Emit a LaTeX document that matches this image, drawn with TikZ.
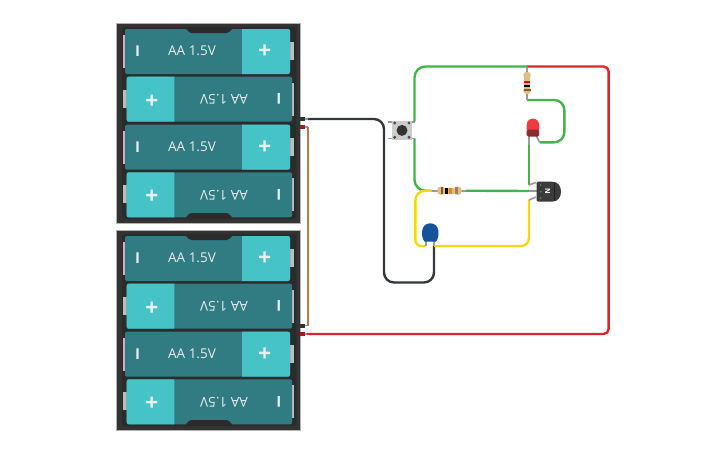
\documentclass[tikz,border=0pt]{standalone}
\usepackage{fontspec}
\setmainfont{Open Sans}
\usetikzlibrary{positioning}

\definecolor{holderdark}{HTML}{2B2B2B}
\definecolor{holderedge}{HTML}{333333}
\definecolor{celldark}{HTML}{317B82}
\definecolor{celllight}{HTML}{45C3C7}
\definecolor{celltext}{HTML}{E6EEEE}
\definecolor{tipgray}{HTML}{BDBDBD}
\definecolor{leadgray}{HTML}{9A9A9A}
\definecolor{wiregreen}{HTML}{3FB54A}
\definecolor{wirered}{HTML}{E4222C}
\definecolor{wireyellow}{HTML}{F5D90E}
\definecolor{wireblack}{HTML}{33383C}
\definecolor{wirebrown}{HTML}{B07C4C}
\definecolor{restan}{HTML}{E0BE85}
\definecolor{resbrown}{HTML}{8B5A2B}
\definecolor{capblue}{HTML}{14539A}
\definecolor{ledred}{HTML}{EE3B40}
\definecolor{leddark}{HTML}{8A2B2E}
\definecolor{stubred}{HTML}{A01A1E}

\tikzset{
    wire/.style={line width=2.4pt, line join=round},
    lead/.style={line width=1.6pt, leadgray},
    celllabel/.style={text=celltext, inner sep=0pt},
    stub/.style={line width=4pt},
}

\begin{document}
\begin{tikzpicture}[x=1pt, y=-1pt]
    \useasboundingbox (0,0) rectangle (725,453);

    % Battery holders
    \foreach \off/\h in {0/A, 207/B} {
        \fill[holderedge, draw=gray!60, line width=0.5pt] (116,23+\off) rectangle (300.5,223+\off);
        \fill[holderdark, rounded corners=2pt] (122,27+\off) rectangle (296,219+\off);

        % Cells pointing right
        \foreach \top/\r in {29/a, 124.7/c} {
            \fill[tipgray] (122.7,\top+6+\off) rectangle (126,\top+39+\off);
            \fill[tipgray] (289,\top+13+\off) rectangle (294,\top+31+\off);
            \fill[celldark, rounded corners=2pt] (125,\top+\off) rectangle (290,\top+45+\off);
            \fill[celllight] (242,\top+\off) [rounded corners=2pt] -- (290,\top+\off)
                -- (290,\top+45+\off) [sharp corners] -- (242,\top+45+\off) -- cycle;
            \node[celllabel, font=\fontsize{13.5}{14}\selectfont] (aa\h\r) at (192,\top+22+\off) {AA 1.5V};
            \node[celllabel, font=\bfseries\fontsize{15}{16}\selectfont] (neg\h\r) at (137.7,\top+22+\off) {I};
            \node[celllabel, font=\bfseries\fontsize{23}{23}\selectfont] (pos\h\r) at (264.7,\top+22.5+\off) {+};
        }

        % Cells pointing left
        \foreach \top/\r in {76.7/b, 172.3/d} {
            \fill[tipgray] (122.7,\top+13+\off) rectangle (128,\top+31+\off);
            \fill[tipgray] (291,\top+6+\off) rectangle (294,\top+39+\off);
            \fill[celldark, rounded corners=2pt] (126.7,\top+\off) rectangle (292,\top+45+\off);
            \fill[celllight] (174.3,\top+\off) [rounded corners=2pt] -- (126.7,\top+\off)
                -- (126.7,\top+45+\off) [sharp corners] -- (174.3,\top+45+\off) -- cycle;
            \node[celllabel, rotate=180, font=\fontsize{13.5}{14}\selectfont] (aa\h\r) at (224,\top+22.5+\off) {AA 1.5V};
            \node[celllabel, rotate=180, font=\bfseries\fontsize{15}{16}\selectfont] (neg\h\r) at (279,\top+22.5+\off) {I};
            \node[celllabel, rotate=180, font=\bfseries\fontsize{23}{23}\selectfont] (pos\h\r) at (151.7,\top+22.5+\off) {+};
        }

        % Notches
        \fill[holderdark, rounded corners=1.5pt] (185,28+\off) -- (190,33+\off) -- (228,33+\off) -- (233,28+\off) -- cycle;
        \fill[holderdark, rounded corners=1.5pt] (185,218+\off) -- (190,213+\off) -- (228,213+\off) -- (233,218+\off) -- cycle;
    }

    % Terminals
    \coordinate (blackA) at (308,119);
    \coordinate (redA) at (307.5,127);
    \coordinate (blackB) at (307.5,325.5);
    \coordinate (redB) at (307,334);
    \coordinate (holdA) at (300,119);
    \coordinate (holdAr) at (300,127);
    \coordinate (holdB) at (300,325.5);
    \coordinate (holdBr) at (300,334);
    \coordinate (tipA) at (304.5,119);
    \coordinate (tipAr) at (304.5,127);
    \coordinate (tipB) at (304.5,325.5);
    \coordinate (tipBr) at (304.5,334);

    % Component pins
    \coordinate (btnTL) at (388,121.7);
    \coordinate (btnTR) at (414.5,121.7);
    \coordinate (btnBL) at (388,138.3);
    \coordinate (btnBR) at (414.5,138.3);
    \coordinate (resTop) at (527,66.5);
    \coordinate (resBot) at (527,100);
    \coordinate (ledA) at (529,145);
    \coordinate (ledK) at (539.5,142.3);
    \coordinate (ledAtop) at (529,136);
    \coordinate (ledKtop) at (536.5,136);
    \coordinate (baseL) at (431.5,190.7);
    \coordinate (baseR) at (466,190.7);
    \coordinate (trE) at (529,185);
    \coordinate (trB) at (529,191);
    \coordinate (trC) at (529,200);
    \coordinate (capL) at (425.7,246);
    \coordinate (capR) at (434,246);
    \coordinate (capLt) at (425.7,240);
    \coordinate (capRt) at (434,240);

    % Wire corners
    \coordinate (blackLow) at (384,282.5);
    \coordinate (redCorner) at (608.6,66.5);
    \coordinate (greenSide) at (564.3,100);
    \coordinate (yellowMid) at (415.3,225);

    % Stubs on the holders
    \draw[stub, black!80] (holdA) -- (tipA);
    \draw[stub, black!80] (holdB) -- (tipB);
    \draw[stub, stubred] (holdAr) -- (tipAr);
    \draw[stub, stubred] (holdBr) -- (tipBr);
    \draw[lead] (tipA) -- (blackA);
    \draw[lead] (tipAr) -- (redA);
    \draw[lead] (tipB) -- (blackB);
    \draw[lead] (tipBr) -- (redB);

    % Brown link
    \draw[wirebrown, line width=2pt] (redA) -- (blackB);

    % Black wire
    \draw[wire, wireblack, rounded corners=10pt] (blackA) -| (blackLow) -| (capR);

    % Red wire
    \draw[wire, wirered, rounded corners=5pt] (redB) -| (redCorner) -- (resTop);

    % Green wires
    \draw[wire, wiregreen, rounded corners=11pt] (resTop) -| (btnTR);
    \draw[wire, wiregreen, rounded corners=11pt] (btnBR) |- (baseL);
    \draw[wire, wiregreen] (baseR) -- (trB);
    \draw[wire, wiregreen] (ledA) -- (trE);
    \draw[wire, wiregreen, rounded corners=10pt] (ledK) -| (greenSide) -- (resBot);

    % Yellow wires
    \draw[wire, wireyellow, rounded corners=10pt] (baseL) -| (yellowMid);
    \draw[wire, wireyellow, rounded corners=6pt] (yellowMid) |- (capL);
    \draw[wire, wireyellow, rounded corners=8pt] (capR) -| (trC);

    % Push button
    \draw[lead] (btnTL) -- (btnTR);
    \draw[lead] (btnBL) -- (btnBR);
    \node[fill=gray!40, minimum width=20.5pt, minimum height=19.5pt, inner sep=0pt] (btn) at (402,130.4) {};
    \fill[black!70] (394.7,123) circle (1.7) (409,123) circle (1.7) (394.7,137.3) circle (1.7) (409,137.3) circle (1.7);
    \node[circle, fill=black!80, minimum size=11pt, inner sep=0pt] (knob) at (btn) {};

    % Upper resistor
    \draw[lead] (resTop) -- (resBot);
    \fill[restan, rounded corners=3pt] (523.3,72) rectangle (530.7,79);
    \fill[restan, rounded corners=3pt] (523.3,87) rectangle (530.7,94);
    \fill[restan] (524,76) rectangle (530,91);
    \node[fill=red, minimum width=6pt, minimum height=2pt, inner sep=0pt] (r1a) at (527,82) {};
    \node[fill=black, minimum width=6pt, minimum height=2.4pt, inner sep=0pt] (r1b) at (527,86) {};
    \node[fill=resbrown, minimum width=7pt, minimum height=2.4pt, inner sep=0pt] (r1c) at (527,90) {};

    % Lower resistor
    \draw[lead] (baseL) -- (baseR);
    \fill[restan, rounded corners=3pt] (437.5,186.6) rectangle (445,194.8);
    \fill[restan, rounded corners=3pt] (454,186.6) rectangle (461.5,194.8);
    \fill[restan] (441,187.7) rectangle (458,193.7);
    \node[fill=resbrown, minimum width=2.6pt, minimum height=7.5pt, inner sep=0pt] (r2a) at (442,190.7) {};
    \node[fill=black, minimum width=2.2pt, minimum height=6pt, inner sep=0pt] (r2b) at (446.4,190.7) {};
    \node[fill=orange, minimum width=2.8pt, minimum height=6pt, inner sep=0pt] (r2c) at (450.8,190.7) {};
    \node[fill=restan!70!black, minimum width=2.2pt, minimum height=7.5pt, inner sep=0pt] (r2d) at (456.4,190.7) {};

    % LED
    \draw[lead] (ledAtop) -- (ledA);
    \draw[lead] (ledKtop) -- (ledK);
    \fill[ledred] (526.7,130) -- (526.7,125) .. controls (526.7,116.5) and (539.1,116.5) .. (539.1,125) -- (539.1,130) -- cycle;
    \fill[leddark, rounded corners=1.5pt] (526.7,129.5) rectangle (539.1,136.7);

    % Transistor
    \draw[lead] (trE) -- (536,182.5);
    \draw[lead] (trB) -- (538,191);
    \draw[lead] (trC) -- (536,197);
    \fill[black!77] (538,181.7) -- (552,181.7) .. controls (558,181.7) and (561,186) .. (561,191.7)
        .. controls (561,197) and (558,201.7) .. (552,201.7) -- (538,201.7) -- (536.7,200.4) -- (536.7,183) -- cycle;
    \draw[black!88, line width=0.8pt] (554.5,182.5) -- (554.5,201);
    \fill[black!55] (540.7,185) circle (1) (540.7,191.7) circle (1) (540.7,198) circle (1);
    \node[text=white, rotate=-90, inner sep=0pt, font=\bfseries\fontsize{7}{7}\selectfont] (trlabel) at (547.5,191.5) {N};

    % Capacitor
    \draw[lead] (capLt) -- (capL);
    \draw[lead] (capRt) -- (capR);
    \fill[capblue] (424.5,241.7) .. controls (420.5,236) and (420.5,223.3) .. (430.3,223.3)
        .. controls (440,223.3) and (440,236) .. (436,241.7) -- cycle;
\end{tikzpicture}
\end{document}
